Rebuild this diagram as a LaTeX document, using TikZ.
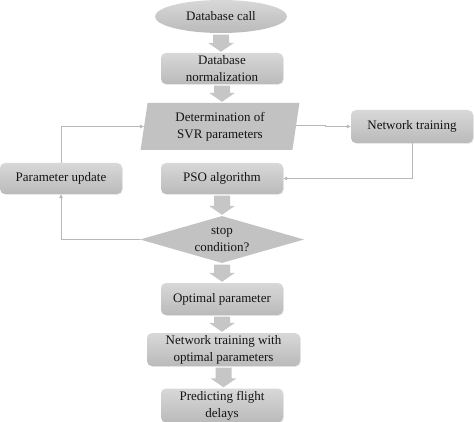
\documentclass[tikz,border=0pt]{standalone}
\usepackage{fontspec}
\setmainfont{Liberation Serif}
\usetikzlibrary{shapes.geometric,arrows.meta,shadows,calc}
\definecolor{boxtop}{HTML}{D8D8D8}
\definecolor{boxbot}{HTML}{BABABA}
\definecolor{flatfill}{HTML}{C2C2C2}
\definecolor{linegray}{HTML}{B8B8B8}
\definecolor{arrowfill}{HTML}{C6C6C6}
\definecolor{txt}{HTML}{141414}
\newcommand\blockarrow[2]{\fill[arrowfill] let \p1=(#1.south), \p2=(#2.north) in
  (\x1-8pt,\y1-1.5pt) -- (\x1+8pt,\y1-1.5pt) -- (\x1+8pt,\y2+10pt) -- (\x1+13pt,\y2+10pt)
  -- (\x1,\y2+1pt) -- (\x1-13pt,\y2+10pt) -- (\x1-8pt,\y2+10pt) -- cycle;}
\begin{document}
\begin{tikzpicture}[x=1pt,y=-1pt,
  every node/.style={font=\fontsize{13}{17}\selectfont, text=txt, align=center},
  procbox/.style={rectangle, rounded corners=5pt, top color=boxtop, bottom color=boxbot,
    draw=none, inner sep=0pt,
    drop shadow={opacity=0.18, shadow xshift=0.8pt, shadow yshift=-0.8pt}},
  conn/.style={draw=linegray, line width=0.8pt, -{Triangle[length=4pt,width=3.5pt]}},
]
\useasboundingbox (0,0) rectangle (474,422);

\node[ellipse, top color=boxtop, bottom color=boxbot, minimum width=132pt, minimum height=33pt, inner sep=0pt] (call) at (221,16.5) {Database call};
\node[procbox, minimum width=122pt, minimum height=31pt] (norm) at (222,68.5) {Database\\normalization};
\node[trapezium, trapezium left angle=81.5, trapezium right angle=98.5, fill=flatfill,
  minimum width=146pt, minimum height=47pt, inner sep=0pt] (svr) at (220,126.5) {Determination of\\SVR parameters};
\node[procbox, minimum width=122pt, minimum height=33pt] (nt) at (412,126.5) {Network training};
\node[procbox, minimum width=122pt, minimum height=31pt] (pso) at (222,178.5) {PSO algorithm};
\node[procbox, minimum width=122pt, minimum height=31pt] (pu) at (61,178.5) {Parameter update};
\node[diamond, fill=flatfill, minimum width=164pt, minimum height=47pt, inner sep=0pt] (cond) at (222,239.5) {};
\node (condtxt) at (cond.center) {stop\\condition?};
\node[procbox, minimum width=122pt, minimum height=32pt] (opt) at (222,299) {Optimal parameter};
\node[procbox, minimum width=153pt, minimum height=33pt] (ntw) at (223.5,349.5) {Network training with\\optimal parameters};
\node[procbox, minimum width=122pt, minimum height=34pt] (pred) at (222,405.5) {Predicting flight\\delays};

\blockarrow{call}{norm}
\blockarrow{norm}{svr}
\blockarrow{pso}{cond}
\blockarrow{cond}{opt}
\blockarrow{opt}{ntw}
\blockarrow{ntw}{pred}

\draw[conn] ([yshift=1.5pt]svr.east) -- ++(29,0) |- (nt.west);
\draw[conn] (nt.south) |- (pso.east);
\draw[conn] (cond.west) -| (pu.south);
\draw[conn] (pu.north) |- (svr.west);
\end{tikzpicture}
\end{document}
